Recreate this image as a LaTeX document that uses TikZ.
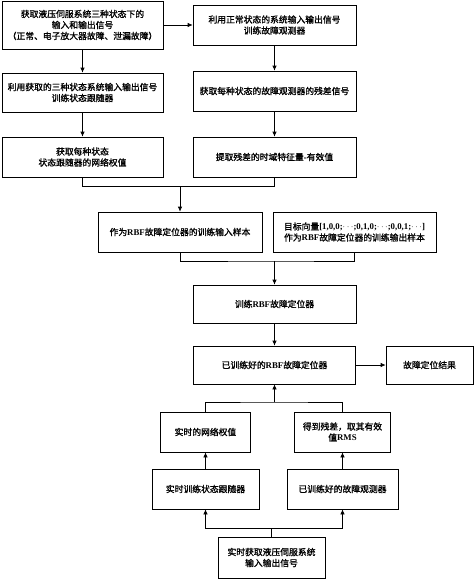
\documentclass[tikz,border=0pt]{standalone}
\usepackage{fontspec}
\setmainfont{Noto Sans CJK SC}[FakeBold=1.2]
\newfontfamily\lat{Liberation Serif Bold}
\usetikzlibrary{arrows.meta}
\tikzset{
  box/.style={draw, line width=0.7pt, align=center, inner sep=0pt,
    font=\fontsize{8.8pt}{11pt}\selectfont, minimum height=40pt},
  arr/.style={line width=0.7pt, -{Latex[length=5pt,width=4.5pt]}},
  ln/.style={line width=0.7pt}
}
\begin{document}
\begin{tikzpicture}[x=1pt,y=-1pt]
\useasboundingbox[fill=white] (0,0) rectangle (474,579);
\node[box, minimum width=161pt, minimum height=48pt] (A) at (82.5,25) {获取液压伺服系统三种状态下的\\输入和输出信号\\（正常、电子放大器故障、泄漏故障）};
\node[box, minimum width=163pt] (B) at (274.5,25) {利用正常状态的系统输入输出信号\\训练故障观测器};
\node[box, minimum width=161pt, minimum height=39pt] (C) at (82.5,92.5) {利用获取的三种状态系统输入输出信号\\训练状态跟随器};
\node[box, minimum width=163pt] (D) at (274.5,91) {获取每种状态的故障观测器的残差信号};
\node[box, minimum width=161pt] (E) at (82.5,157) {获取每种状态\\状态跟随器的网络权值};
\node[box, minimum width=163pt] (F) at (274.5,157) {提取残差的时域特征量-有效值};
\node[box, minimum width=164pt] (G) at (180,232) {作为{\lat RBF}故障定位器的训练输入样本};
\node[box, minimum width=163pt] (H) at (354.5,232) {目标向量{\lat [1,0,0;$\cdots$;0,1,0;$\cdots$;0,0,1;$\cdots$]}\\作为{\lat RBF}故障定位器的训练输出样本};
\node[box, minimum width=163pt, minimum height=38pt] (I) at (274.5,304) {训练{\lat RBF}故障定位器};
\node[box, minimum width=162pt, minimum height=38pt] (J) at (274.5,365) {已训练好的{\lat RBF}故障定位器};
\node[box, minimum width=87pt, minimum height=38pt] (K) at (429.5,365) {故障定位结果};
\node[box, minimum width=90pt] (L) at (205.5,432) {实时的网络权值};
\node[box, minimum width=96pt] (M) at (342.5,432) {得到残差，取其有效\\值{\lat RMS}\hspace{3.2em}};
\node[box, minimum width=107pt] (N) at (205.5,489) {实时训练状态跟随器};
\node[box, minimum width=111pt] (O) at (342.5,489) {已训练好的故障观测器};
\node[box, minimum width=107pt, minimum height=41pt] (P) at (271.5,557.5) {实时获取液压伺服系统\\输入输出信号};
\coordinate (m1) at (180,186);
\coordinate (m2) at (274.5,261);
\coordinate (m3) at (274.5,402);
\coordinate (m4) at (271.5,528);
\draw[arr] (A) -- (B);
\draw[arr] (A) -- (C);
\draw[arr] (C) -- (E);
\draw[arr] (B) -- (D);
\draw[arr] (D) -- (F);
\draw[ln] (E.south) |- (m1);
\draw[ln] (F.south) |- (m1);
\draw[arr] (m1) -- (G.north);
\draw[ln] (G.south) |- (m2) -| (H.south);
\draw[arr] (m2) -- (I.north);
\draw[arr] (I) -- (J);
\draw[arr] (J) -- (K);
\draw[ln] (L.north) |- (m3) -| (M.north);
\draw[arr] (m3) -- (J.south);
\draw[arr] (N) -- (L);
\draw[arr] (O) -- (M);
\draw[ln] (P.north) -- (m4);
\draw[arr] (m4) -| (N.south);
\draw[arr] (m4) -| (O.south);
\end{tikzpicture}
\end{document}
